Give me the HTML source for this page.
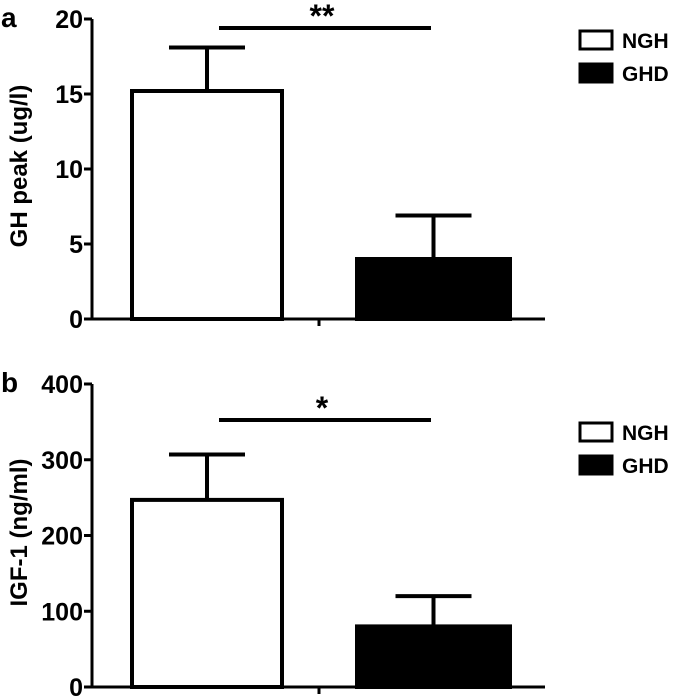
<!DOCTYPE html>
<html><head><meta charset="utf-8"><style>
body{margin:0;background:#fff}
svg{display:block;font-family:"Liberation Sans",Arial,sans-serif;font-weight:bold}
</style></head><body>
<svg id="c" width="685" height="699" xmlns="http://www.w3.org/2000/svg"></svg>
<script>
const groups=["NGH","GHD"];
const ghMean=[15.2,4.0];
const ghErr=[18.1,6.9];
const igfMean=[247,80];
const igfErr=[307,120];
const ghTicks=[0,5,10,15,20];
const igfTicks=[0,100,200,300,400];
const sigA="**", sigB="*";
const NS="http://www.w3.org/2000/svg";
const svg=document.getElementById('c');
function el(t,a,p){const e=document.createElementNS(NS,t);for(const k in a)e.setAttribute(k,a[k]);(p||svg).appendChild(e);return e;}
function panel(o){
  const g=el('g',{});
  
  
  const y=v=>o.y0-(v/o.max)*(o.y0-o.yTop);
  const ax=92,xEnd=545;
  const lab=el('text',{x:1,y:o.yTop+8,'font-size':28},g);lab.textContent=o.letter;
  
  const yl=el('path',{d:`M${ax} ${o.yTop}V${o.y0}H${xEnd}M319 ${o.y0}v7`,stroke:'#000','stroke-width':3,fill:'none'},g);
  
  o.ticks.forEach(t=>{
    el('line',{x1:ax-8,x2:ax,y1:y(t),y2:y(t),stroke:'#000','stroke-width':3},g);
    const tx=el('text',{x:ax-9,y:y(t)+9,'font-size':25,'text-anchor':'end'},g);tx.textContent=t;
    
  });
  const yt=el('text',{x:0,y:0,'font-size':24,'text-anchor':'middle',transform:`translate(27 ${(o.yTop+o.y0)/2-3}) rotate(-90)`},g);
  yt.textContent=o.title;
  const bx=[[132,282],[357,510]];
  groups.forEach((gname,i)=>{
    const [x1,x2]=bx[i],cx=(x1+x2)/2;
    const e=el('path',{d:`M${cx} ${y(o.mean[i])}V${y(o.err[i])}M${cx-38} ${y(o.err[i])}H${cx+38}`,stroke:'#000','stroke-width':4},g);
    
    const r=el('rect',{x:x1,y:y(o.mean[i]),width:x2-x1,height:o.y0-y(o.mean[i]),fill:i?'#000':'#fff',stroke:'#000','stroke-width':4},g);
    
  });
  const s=el('line',{x1:219,x2:431,y1:o.sigY,y2:o.sigY,stroke:'#000','stroke-width':4},g);
  
  const st=el('text',{x:322,y:o.sigY-1,'font-size':32,'text-anchor':'middle'},g);st.textContent=o.sig;
  
  groups.forEach((gname,i)=>{
    const ly=o.legY+i*33;
    const lg=el('g',{},g);
    el('rect',{x:580,y:ly-9,width:32,height:18,fill:i?'#000':'#fff',stroke:'#000','stroke-width':3},lg);
    const t=el('text',{x:622,y:ly+8,'font-size':21},lg);t.textContent=gname;
  });
}
panel({name:'panel-a-gh-peak',letter:'a',yTop:19,y0:319,max:20,ticks:ghTicks,mean:ghMean,err:ghErr,title:'GH peak (ug/l)',sigY:28,sig:sigA,legY:40});
panel({name:'panel-b-igf1',letter:'b',yTop:384,y0:687,max:400,ticks:igfTicks,mean:igfMean,err:igfErr,title:'IGF-1 (ng/ml)',sigY:420,sig:sigB,legY:432});
</script>
</body></html>
